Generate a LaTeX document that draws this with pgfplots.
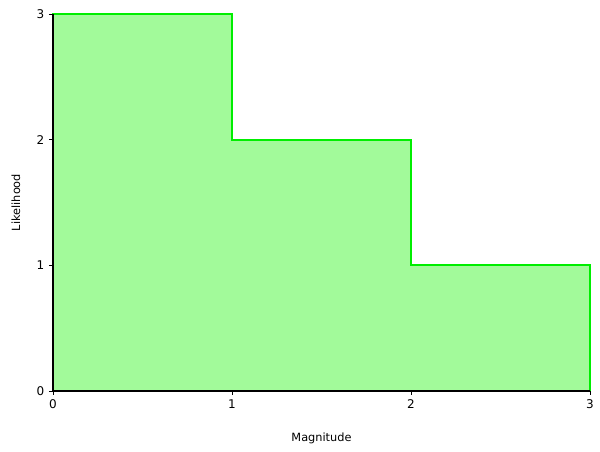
\documentclass[border=0pt]{standalone}
\usepackage{fontspec}
\setmainfont{DejaVu Sans}
\usepackage{pgfplots}
\pgfplotsset{compat=1.18}
\definecolor{fillg}{RGB}{162,250,154}
\definecolor{lineg}{RGB}{0,238,0}
\begin{document}
\begin{tikzpicture}
\useasboundingbox (-39.75pt,-45.75pt) rectangle (410.25pt,293.25pt);
\begin{axis}[
  at={(0,0)}, anchor=south west,
  width=402.75pt, height=282.75pt, scale only axis,
  xmin=0, xmax=3, ymin=0, ymax=3,
  axis x line=bottom, axis y line=left,
  axis line style={-, black, line width=0.8pt},
  xtick={0,1,2,3}, ytick={0,1,2,3},
  tick align=outside, major tick length=3pt,
  tick style={black, line width=0.6pt},
  xticklabel style={font=\fontsize{9}{11}\selectfont},
  yticklabel style={font=\fontsize{9}{11}\selectfont},
  /pgf/number format/assume math mode=true,
  xlabel={Magnitude}, ylabel={Likelihood},
  label style={font=\fontsize{8.5}{10}\selectfont},
  xlabel style={at={(axis description cs:0.5,-0.125)}, anchor=center},
  ylabel style={at={(axis description cs:-0.069,0.5)}, anchor=center},
  axis on top, clip=false,
]
\addplot[const plot, fill=fillg, draw=lineg, line width=1.3pt] coordinates {(0,3) (1,2) (2,1) (3,1)} \closedcycle;
\end{axis}
\end{tikzpicture}
\end{document}
